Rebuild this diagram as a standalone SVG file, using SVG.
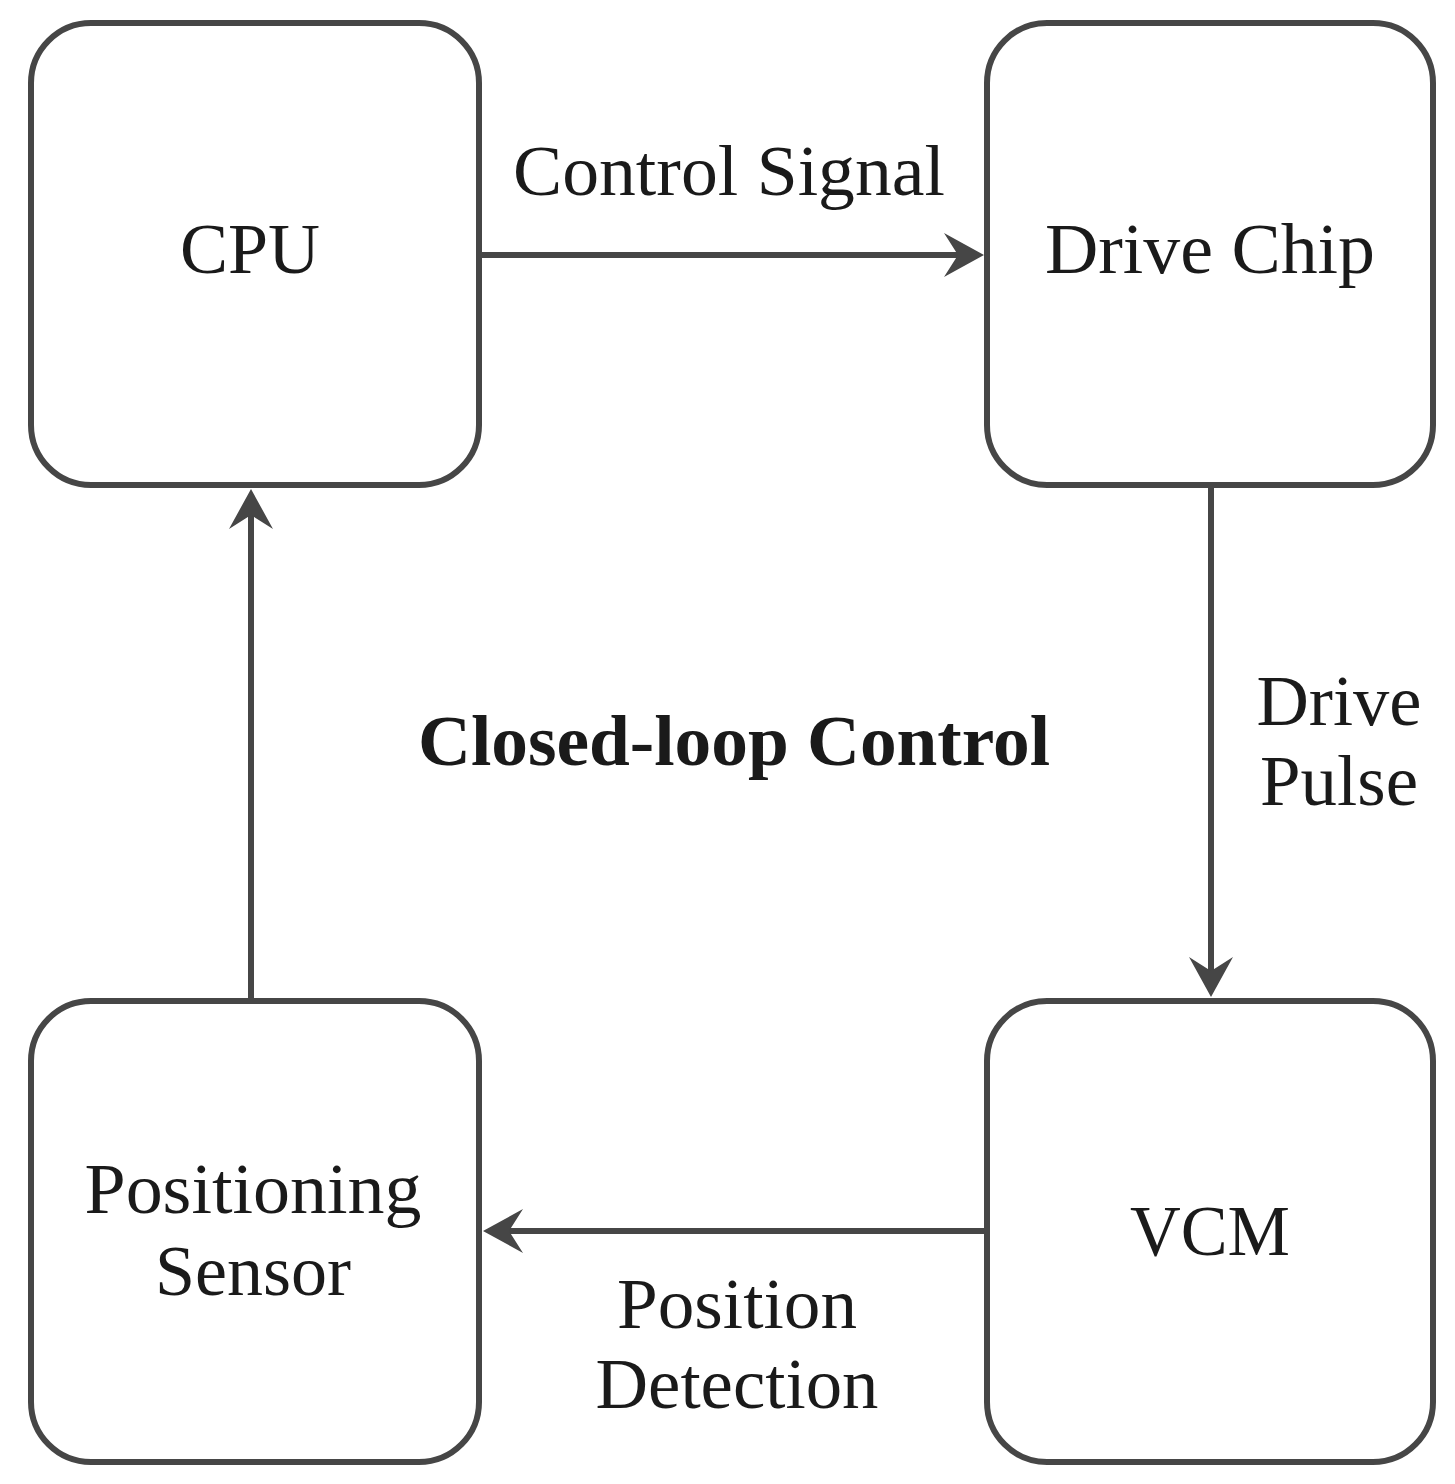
<svg xmlns="http://www.w3.org/2000/svg" width="1455" height="1484" viewBox="0 0 1455 1484">
<style>
.box{fill:#fff;stroke:#464646;stroke-width:6}
.conn{fill:none;stroke:#464646;stroke-width:6}
.t{font-family:"Liberation Serif","Times New Roman",serif;font-size:72px;fill:#1a1a1a;text-anchor:middle}
.b{font-weight:bold}
</style>
<defs>
<marker id="ah" markerUnits="userSpaceOnUse" markerWidth="40" markerHeight="46" viewBox="0 0 40 46" refX="20" refY="23" orient="auto">
<path d="M0,1 L40,23 L0,45 L14,23 Z" fill="#464646"/>
</marker>
</defs>
<rect width="1455" height="1484" fill="#fff"/>
<g id="connectors">
<line class="conn" x1="482" y1="255" x2="964" y2="255" marker-end="url(#ah)"/>
<line class="conn" x1="1211" y1="488" x2="1211" y2="977" marker-end="url(#ah)"/>
<line class="conn" x1="985" y1="1231" x2="503" y2="1231" marker-end="url(#ah)"/>
<line class="conn" x1="251" y1="998" x2="251" y2="509" marker-end="url(#ah)"/>
<text class="t" x="729" y="195" textLength="432" lengthAdjust="spacingAndGlyphs">Control Signal</text>
<text class="t" x="1339" y="725" textLength="165" lengthAdjust="spacingAndGlyphs">Drive</text>
<text class="t" x="1339" y="805" textLength="158" lengthAdjust="spacingAndGlyphs">Pulse</text>
<text class="t" x="737" y="1328" textLength="240" lengthAdjust="spacingAndGlyphs">Position</text>
<text class="t" x="737" y="1408" textLength="283" lengthAdjust="spacingAndGlyphs">Detection</text>
</g>
<g id="cpu">
<rect class="box" x="31" y="23" width="448" height="462" rx="60"/>
<text class="t" x="250" y="273" textLength="140" lengthAdjust="spacingAndGlyphs">CPU</text>
</g>
<g id="drive-chip">
<rect class="box" x="987" y="23" width="446" height="462" rx="60"/>
<text class="t" x="1210" y="273" textLength="330" lengthAdjust="spacingAndGlyphs">Drive Chip</text>
</g>
<g id="positioning-sensor">
<rect class="box" x="31" y="1001" width="448" height="461" rx="60"/>
<text class="t" x="253" y="1213" textLength="337" lengthAdjust="spacingAndGlyphs">Positioning</text>
<text class="t" x="253" y="1295" textLength="196" lengthAdjust="spacingAndGlyphs">Sensor</text>
</g>
<g id="vcm">
<rect class="box" x="987" y="1001" width="446" height="461" rx="60"/>
<text class="t" x="1210" y="1255" textLength="160" lengthAdjust="spacingAndGlyphs">VCM</text>
</g>
<g id="title">
<text class="t b" x="734" y="765" textLength="632" lengthAdjust="spacingAndGlyphs">Closed-loop Control</text>
</g>
</svg>
